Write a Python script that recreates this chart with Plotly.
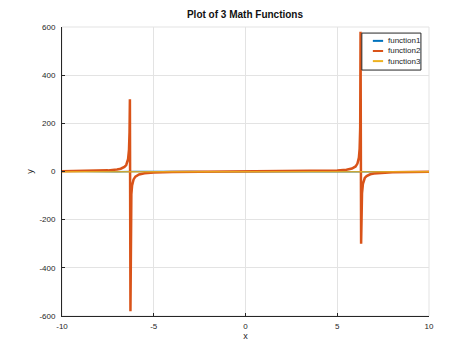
import plotly.graph_objects as go

# function2 sample points
x2 = [-10, -9, -8, -7.5, -7, -6.8, -6.6, -6.5, -6.4, -6.35, -6.32, -6.30,
      -6.27, -6.26, -6.25, -6.22, -6.18, -6.1, -6.0, -5.8, -5.5, -5, -4, -3, -2, -1, 0,
      1, 2, 3, 4, 5, 5.5, 5.8, 6.0, 6.1, 6.18, 6.22, 6.25, 6.26, 6.27,
      6.30, 6.32, 6.35, 6.4, 6.5, 6.6, 6.8, 7, 7.5, 8, 9, 10]
f2 = [1.1, 1.9, 3.3, 4.7, 8.3, 11.6, 19, 27, 51, 90, 163, 300,
      -580, -258, -180, -95, -58, -33, -21, -12.4, -7.5, -4.5, -2.3, -1.4, -0.8, -0.4, 0,
      0.4, 0.8, 1.4, 2.3, 4.5, 7.5, 12.4, 21, 33, 58, 95, 180, 258, 580,
      -300, -163, -90, -51, -27, -19, -11.6, -8.3, -4.7, -3.3, -1.9, -1.1]

# function1 / function3 sample points (near zero at this scale)
x13 = [-10, -9, -8, -7, -6, -5, -4, -3, -2, -1, 0, 1, 2, 3, 4, 5, 6, 7, 8, 9, 10]
f1 = [0.54, -0.41, -0.99, -0.66, 0.28, 0.96, 0.76, -0.14, -0.91, -0.84, 0,
      0.84, 0.91, 0.14, -0.76, -0.96, -0.28, 0.66, 0.99, 0.41, -0.54]
f3 = [-0.84, -0.91, -0.15, 0.75, 0.96, 0.28, -0.65, -0.99, -0.42, 0.54, 1,
      0.54, -0.42, -0.99, -0.65, 0.28, 0.96, 0.75, -0.15, -0.91, -0.84]

names = ["function1", "function2", "function3"]
colors = ["#0072BD", "#D95319", "#EDB120"]

x_ticks = [-10, -5, 0, 5, 10]
x_ticktext = ["-10", "-5", "0", "5", "10"]
y_ticks = [-600, -400, -200, 0, 200, 400, 600]
y_ticktext = ["-600", "-400", "-200", "0", "200", "400", "600"]

fig = go.Figure()
fig.add_trace(go.Scatter(x=x13, y=f1, mode="lines", name=names[0],
                         line=dict(color=colors[0], width=1.5)))
fig.add_trace(go.Scatter(x=x2, y=f2, mode="lines", name=names[1],
                         line=dict(color=colors[1], width=2.5)))
fig.add_trace(go.Scatter(x=x13, y=f3, mode="lines", name=names[2],
                         line=dict(color=colors[2], width=1.5), opacity=0.85))

font_family = "Liberation Sans, Arial, sans-serif"
dark = "#262626"

# legend box (drawn manually to match the compact original legend)
shapes = [
    dict(type="rect", xref="paper", yref="paper", x0=0, x1=1, y0=0, y1=1,
         line=dict(color="#E3E3E3", width=1), layer="below"),
    dict(type="rect", xref="paper", yref="paper", x0=0.817, x1=0.978, y0=0.851, y1=0.979,
         line=dict(color=dark, width=1), fillcolor="white", layer="above"),
]
annotations = []
leg_y = [0.952, 0.917, 0.882]
for name, col, yy in zip(names, colors, leg_y):
    shapes.append(dict(type="line", xref="paper", yref="paper", x0=0.847, x1=0.875,
                       y0=yy, y1=yy, line=dict(color=col, width=2), layer="above"))
    annotations.append(dict(text=name, xref="paper", yref="paper", x=0.882, y=yy,
                            xanchor="left", yanchor="middle", showarrow=False,
                            font=dict(family=font_family, size=8, color=dark)))

fig.update_layout(
    width=474, height=355,
    margin=dict(l=54, r=53, t=19, b=47),
    paper_bgcolor="white", plot_bgcolor="white",
    title=dict(text="<b>Plot of 3 Math Functions</b>", x=0.5, xanchor="center",
               y=0.983, yanchor="middle",
               font=dict(family=font_family, size=10, color="#111111")),
    font=dict(family=font_family, size=8, color=dark),
    showlegend=False,
    xaxis=dict(range=[-10, 10], tickvals=x_ticks, ticktext=x_ticktext,
               ticks="inside", ticklen=3, ticklabelstandoff=2,
               tickcolor=dark, showline=True, linecolor=dark, linewidth=1,
               showgrid=True, gridcolor="#E3E3E3", zeroline=False,
               title=dict(text="x", standoff=2, font=dict(size=9))),
    yaxis=dict(range=[-600, 600], tickvals=y_ticks, ticktext=y_ticktext,
               ticks="inside", ticklen=3, ticklabelstandoff=4,
               tickcolor=dark, showline=True, linecolor=dark, linewidth=1,
               showgrid=True, gridcolor="#E3E3E3", zeroline=False,
               title=dict(text="y", standoff=4, font=dict(size=9))),
    shapes=shapes,
    annotations=annotations,
)

fig.write_html("out.html")
